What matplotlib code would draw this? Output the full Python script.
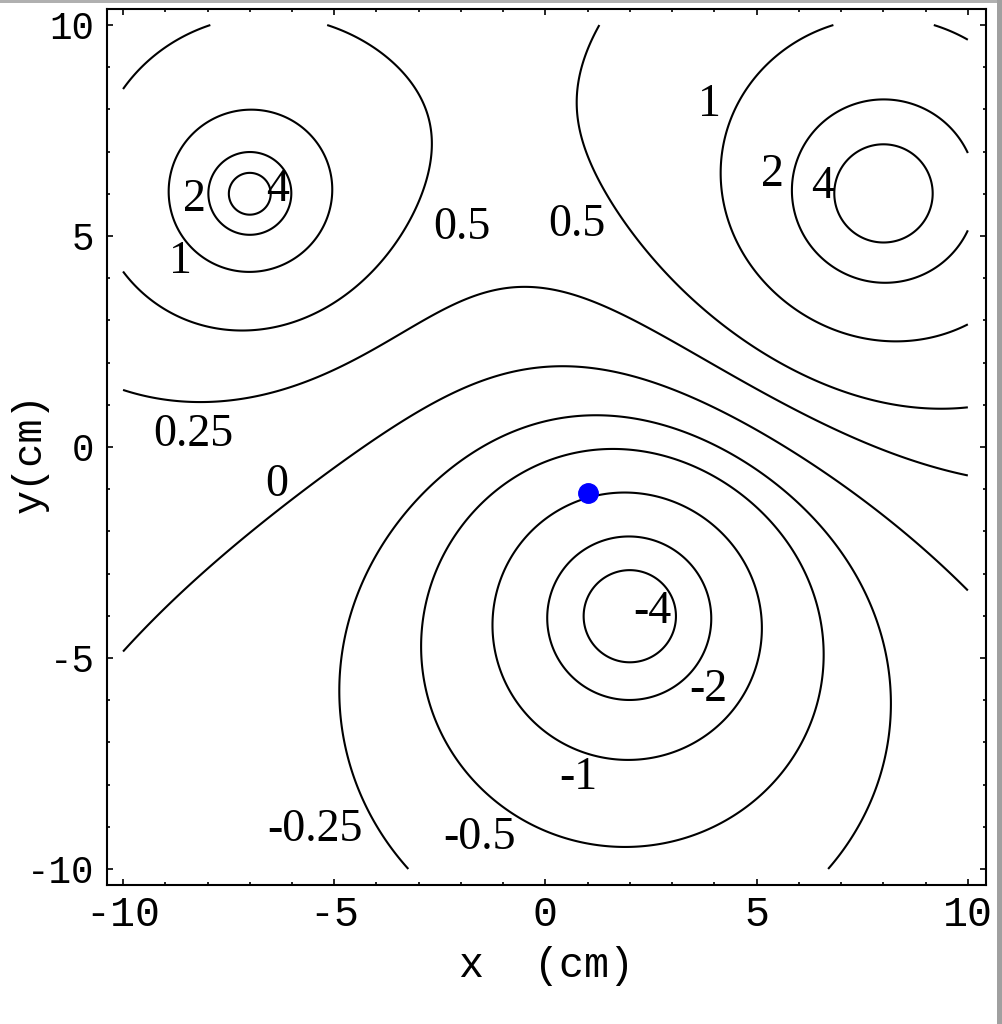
import numpy as np
import matplotlib
matplotlib.use("Agg")
import matplotlib.pyplot as plt
from matplotlib.patches import Rectangle

# point charges (cm, arbitrary units)
charge_x = [-7.0, 8.0, 2.0]
charge_y = [6.0, 6.0, -4.0]
charge_q = [2.0, 5.0, -5.0]

levels = [-4, -2, -1, -0.5, -0.25, 0, 0.25, 0.5, 1, 2, 4]

# contour labels: value and where the text sits
label_vals = [2, 4, 1, 0.5, 0.5, 1, 2, 4, 0.25, 0, -4, -2, -1, -0.5, -0.25]
label_x = [-8.3, -6.35, -8.65, -1.98, 0.75, 3.89, 5.38, 6.57, -8.34, -6.36, 2.52, 3.85, 0.77, -1.55, -5.46]
label_y = [5.85, 6.09, 4.38, 5.19, 5.26, 8.10, 6.45, 6.16, 0.28, -0.90, -3.91, -5.76, -7.84, -9.27, -9.08]

# marked test point
dot_x = [1.0]
dot_y = [-1.1]

plt.rcParams['axes.unicode_minus'] = False

x = np.linspace(-10, 10, 801)
X, Y = np.meshgrid(x, x)
V = np.zeros_like(X)
for cx, cy, q in zip(charge_x, charge_y, charge_q):
    r = np.sqrt((X - cx)**2 + (Y - cy)**2)
    r[r < 1e-3] = 1e-3
    V += q / r

fig = plt.figure(figsize=(10.03, 10.24), dpi=100)
ax = fig.add_axes([107/1003, 1 - 885/1024, (986-107)/1003, (885-9)/1024])

ax.contour(X, Y, V, levels=levels, colors='black', linewidths=1.5,
           linestyles='solid', negative_linestyles='solid')

for v, lx, ly in zip(label_vals, label_x, label_y):
    ax.text(lx, ly, '%g' % v, fontsize=33, family='Liberation Serif',
            ha='center', va='center', color='black')

ax.plot(dot_x, dot_y, 'o', color='#0000ff', markersize=14, zorder=5)

ax.set_xlim(-10.38, 10.43)
ax.set_ylim(-10.38, 10.38)
ax.set_xticks([-10, -5, 0, 5, 10])
ax.set_yticks([-10, -5, 0, 5, 10])
ax.set_xticks(np.arange(-10, 11, 1), minor=True)
ax.set_yticks(np.arange(-10, 11, 1), minor=True)
ax.tick_params(which='both', direction='in', top=True, right=True, width=1.2)
ax.tick_params(which='major', length=4)
ax.tick_params(which='minor', length=2.5)
ax.tick_params(axis='x', pad=7)
ax.tick_params(axis='y', pad=9)
for lab in ax.get_xticklabels():
    lab.set_family('Liberation Mono')
    lab.set_fontsize(30)
for lab in ax.get_yticklabels():
    lab.set_family('Liberation Mono')
    lab.set_fontsize(27)
for sp in ax.spines.values():
    sp.set_linewidth(1.5)

ax.set_xlabel('x  (cm)', family='Liberation Mono', fontsize=30, labelpad=8)
ax.set_ylabel('y(cm)', family='Liberation Mono', fontsize=29)
ax.yaxis.set_label_coords(-0.066, 0.494)

# gray frame bits on top and right edge of the picture
fig.add_artist(Rectangle((0, 1 - 3/1024), 1, 3/1024, transform=fig.transFigure, color='#b0b0b0', lw=0))
fig.add_artist(Rectangle((997/1003, 0), 6/1003, 1, transform=fig.transFigure, color='#a0a0a0', lw=0))

fig.savefig('out.png', dpi=100)
